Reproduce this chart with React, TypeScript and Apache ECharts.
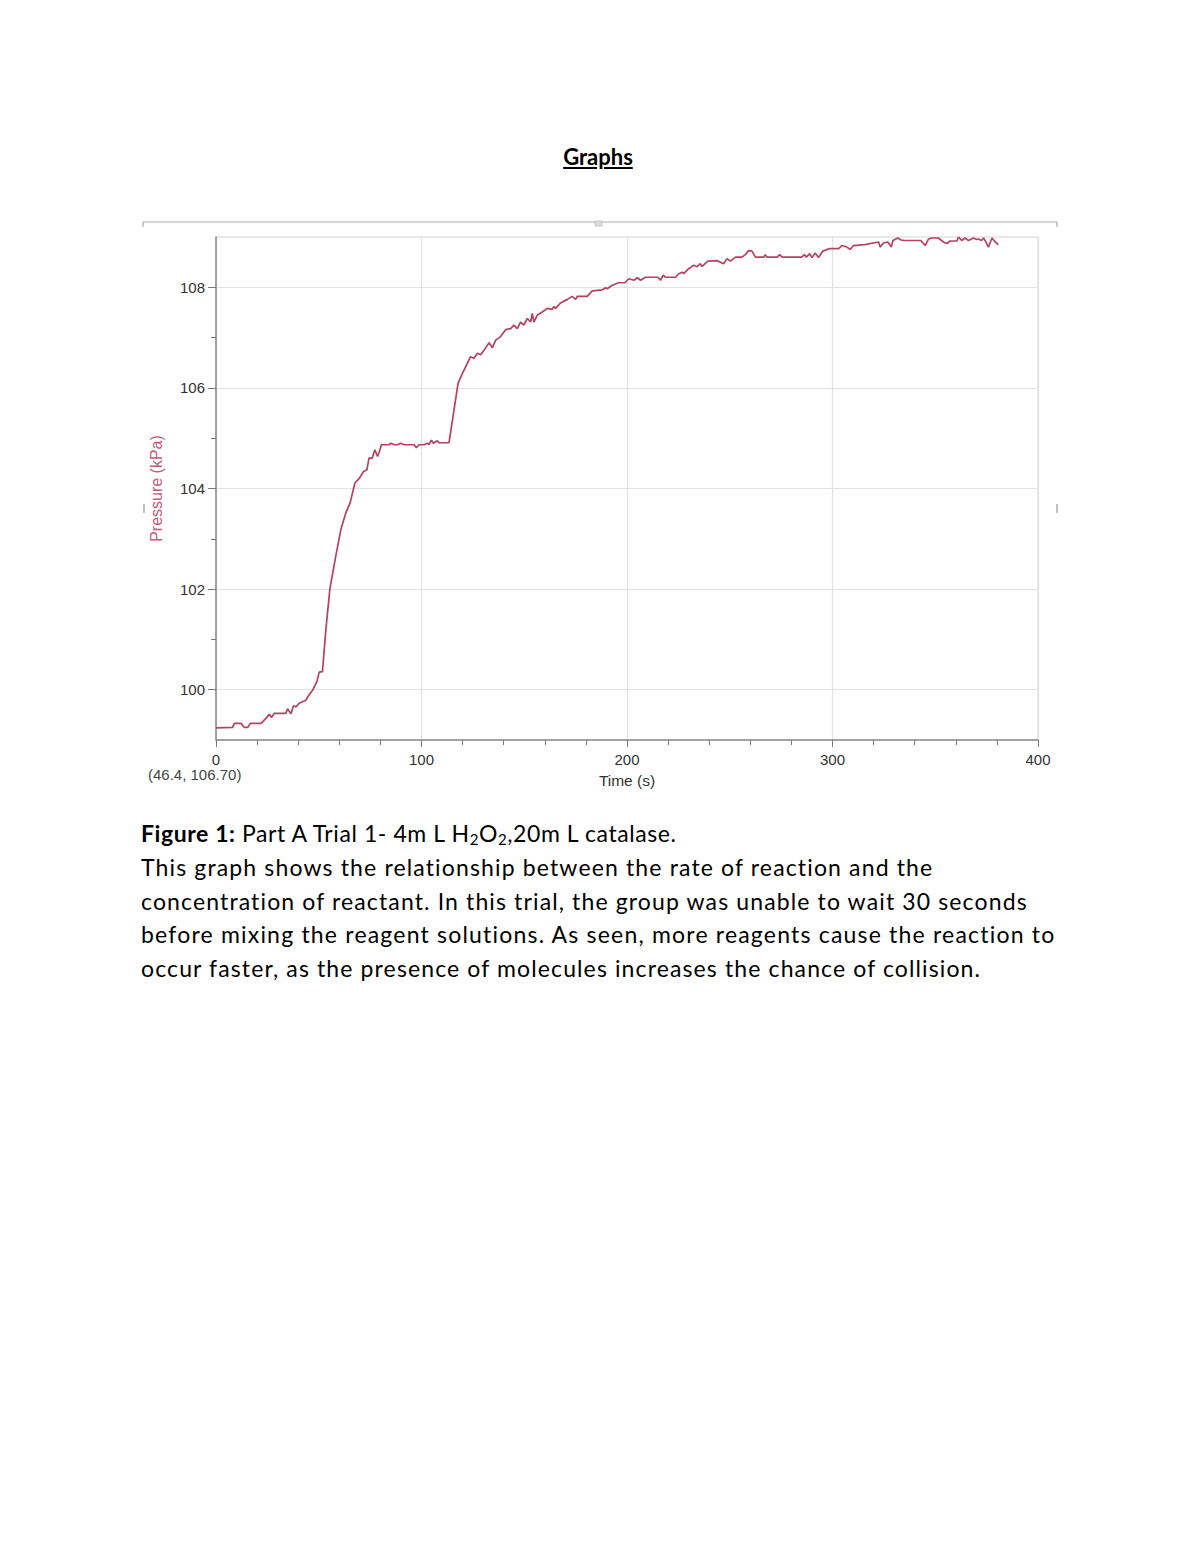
import { useEffect, useRef, type ReactNode } from 'react'
import * as echarts from 'echarts'

// readings taken off the logger trace: time (s) and pressure (kPa)
const timeS = [
  0, 8.1, 8.9, 12.2, 13.8, 15.4, 16.7, 21.9, 24.3, 25.9, 27.1, 28.4, 34.0, 34.8, 36.5, 37.7, 38.9,
  40.5, 43.7, 45.0, 47.0, 49.1, 50.2, 51.8, 53.5, 55.4, 58.3, 60.8, 63.2, 65.3, 67.6, 69.7, 71.8,
  73.4, 74.5, 76.0, 77.3, 78.6, 79.4, 80.5, 84.2, 85.1, 86.7, 88.3, 89.9, 91.5, 96.4, 97.5, 98.8,
  101.3, 102.9, 103.7, 104.8, 105.8, 107.7, 108.5, 113.4, 115.8, 117.8, 119.9, 122.3, 123.9, 125.5,
  127.2, 128.8, 130.4, 132.9, 134.5, 136.1, 138.5, 141.0, 143.4, 145.0, 146.6, 148.2, 149.8, 151.5,
  153.1, 153.9, 154.7, 156.4, 158.8, 161.2, 163.6, 164.4, 165.2, 167.7, 171.0, 173.3, 175.0, 175.8,
  180.6, 183.1, 188.0, 189.6, 190.4, 192.8, 196.0, 199.0, 200.9, 203.4, 205.0, 206.6, 209.0, 215.0,
  216.3, 217.6, 218.7, 223.6, 225.2, 226.8, 227.6, 230.0, 232.5, 234.1, 235.7, 236.5, 239.3, 243.8,
  247.0, 248.7, 250.3, 252.8, 256.0, 257.6, 259.2, 260.8, 262.5, 266.6, 267.3, 268.1, 273.1, 274.3,
  275.5, 285.0, 286.3, 287.3, 288.9, 290.0, 291.6, 293.2, 295.3, 298.6, 303.0, 304.6, 307.0, 308.6,
  310.2, 315.8, 322.4, 323.2, 324.8, 326.9, 328.6, 329.4, 331.8, 333.4, 335.0, 343.0, 345.1, 346.7,
  348.3, 351.5, 354.0, 355.6, 357.2, 360.5, 361.3, 362.9, 364.5, 366.2, 368.6, 370.2, 371.0, 372.5,
  373.5, 374.7, 375.9, 377.6, 379.2, 380.7
]

const pressureKPa = [
  99.24, 99.25, 99.33, 99.33, 99.25, 99.25, 99.33, 99.33, 99.43, 99.51, 99.45, 99.53, 99.53, 99.62,
  99.52, 99.68, 99.66, 99.73, 99.79, 99.88, 99.99, 100.16, 100.35, 100.36, 101.21, 102.0, 102.66,
  103.19, 103.52, 103.72, 104.11, 104.2, 104.34, 104.37, 104.61, 104.6, 104.77, 104.64, 104.72,
  104.87, 104.87, 104.9, 104.87, 104.87, 104.9, 104.87, 104.87, 104.81, 104.87, 104.87, 104.9,
  104.87, 104.96, 104.9, 104.95, 104.91, 104.91, 105.56, 106.09, 106.29, 106.49, 106.62, 106.59,
  106.69, 106.66, 106.75, 106.9, 106.8, 106.95, 107.02, 107.16, 107.18, 107.25, 107.18, 107.31,
  107.25, 107.38, 107.31, 107.48, 107.31, 107.45, 107.51, 107.58, 107.56, 107.62, 107.58, 107.69,
  107.76, 107.82, 107.76, 107.82, 107.82, 107.93, 107.95, 107.99, 107.97, 108.04, 108.09, 108.09,
  108.17, 108.14, 108.19, 108.14, 108.2, 108.2, 108.14, 108.24, 108.2, 108.2, 108.27, 108.3,
  108.27, 108.37, 108.44, 108.41, 108.47, 108.41, 108.52, 108.53, 108.47, 108.57, 108.52, 108.6,
  108.6, 108.65, 108.73, 108.72, 108.6, 108.6, 108.65, 108.6, 108.6, 108.65, 108.6, 108.6, 108.65,
  108.6, 108.67, 108.59, 108.68, 108.59, 108.72, 108.77, 108.77, 108.83, 108.8, 108.75, 108.83,
  108.85, 108.9, 108.8, 108.88, 108.9, 108.8, 108.93, 108.98, 108.94, 108.93, 108.93, 108.83,
  108.96, 108.98, 108.98, 108.9, 108.87, 108.92, 108.92, 109.0, 108.93, 108.98, 108.93, 108.98,
  108.95, 108.96, 108.93, 108.98, 108.9, 108.8, 108.98, 108.9, 108.85
]

const yMajorTicks = [100, 102, 104, 106, 108]
const yMinorTicks = [101, 103, 105, 107]
const cursorReadout = '(46.4, 106.70)'

const captionLines = [
  'This graph shows the relationship between the rate of reaction and the',
  'concentration of reactant. In this trial, the group was unable to wait 30 seconds',
  'before mixing the reagent solutions. As seen, more reagents cause the reaction to',
  'occur faster, as the presence of molecules increases the chance of collision.'
]
// right edge of each caption line on the page
const captionRight = [933, 1027, 1055, 980]

const docFont = "Lato, 'Open Sans', sans-serif"
const axisFont = "'Liberation Sans', Arial, sans-serif"

function PressureChart() {
  const ref = useRef<HTMLDivElement | null>(null)

  useEffect(() => {
    if (!ref.current) return
    const chart = echarts.init(ref.current, null, { renderer: 'svg' })

    const handleColor = '#c8c8c8'

    chart.setOption({
      animation: false,
      backgroundColor: '#fff',
      grid: {
        left: 86,
        top: 37,
        width: 822,
        height: 503,
        show: true,
        borderColor: '#d4d4d4',
        borderWidth: 1,
        backgroundColor: 'transparent'
      },
      xAxis: {
        type: 'value',
        min: 0,
        max: 400,
        interval: 100,
        name: 'Time (s)',
        nameLocation: 'middle',
        nameGap: 32,
        nameTextStyle: { color: '#333', fontSize: 15.5, fontFamily: axisFont },
        axisLine: { show: true, lineStyle: { color: '#8a8a8a', width: 1.5 } },
        axisTick: { show: true, length: 7, lineStyle: { color: '#777' } },
        minorTick: { show: true, splitNumber: 5, length: 5, lineStyle: { color: '#777' } },
        axisLabel: { color: '#333', fontSize: 15, fontFamily: axisFont, margin: 12 },
        splitLine: { show: true, lineStyle: { color: '#e2e2e2', width: 1.2 } }
      },
      yAxis: [
        {
          type: 'value',
          min: 99,
          max: 109,
          interval: 1,
          name: 'Pressure (kPa)',
          nameLocation: 'middle',
          nameGap: 52,
          nameTextStyle: { color: '#c85a7c', fontSize: 16, fontFamily: axisFont },
          axisLine: { show: true, lineStyle: { color: '#8a8a8a', width: 1.5 } },
          axisTick: { show: true, length: 8, customValues: yMajorTicks, lineStyle: { color: '#777' } },
          axisLabel: {
            color: '#333',
            fontSize: 15,
            fontFamily: axisFont,
            margin: 11,
            customValues: yMajorTicks
          },
          splitLine: { show: true, lineStyle: { color: '#e2e2e2', width: 1.2 } }
        },
        {
          type: 'value',
          min: 99,
          max: 109,
          interval: 1,
          position: 'left',
          axisLine: { show: false },
          axisTick: { show: true, length: 5, customValues: yMinorTicks, lineStyle: { color: '#777' } },
          axisLabel: { show: false },
          splitLine: { show: false }
        }
      ],
      graphic: [
        // selection frame of the pasted screenshot
        { type: 'line', shape: { x1: 13, y1: 22, x2: 927, y2: 22 }, style: { stroke: handleColor, lineWidth: 1.5 } },
        { type: 'line', shape: { x1: 13, y1: 22, x2: 13, y2: 27 }, style: { stroke: '#999', lineWidth: 1 } },
        { type: 'line', shape: { x1: 927, y1: 22, x2: 927, y2: 27 }, style: { stroke: '#999', lineWidth: 1 } },
        { type: 'rect', shape: { x: 465, y: 21, width: 7, height: 5 }, style: { fill: '#ddd', stroke: '#bbb', lineWidth: 0.8 } },
        { type: 'line', shape: { x1: 14, y1: 304, x2: 14, y2: 313 }, style: { stroke: '#999', lineWidth: 1.2 } },
        { type: 'line', shape: { x1: 927, y1: 304, x2: 927, y2: 313 }, style: { stroke: '#999', lineWidth: 1.2 } },
        {
          type: 'text',
          left: 18,
          top: 567,
          style: { text: cursorReadout, fill: '#444', fontSize: 15, fontFamily: axisFont }
        }
      ],
      series: [
        {
          type: 'line',
          xAxisIndex: 0,
          yAxisIndex: 0,
          showSymbol: false,
          silent: true,
          lineStyle: { color: '#b5435f', width: 1.7 },
          data: timeS.map((t, i) => [t, pressureKPa[i]])
        }
      ]
    })

    return () => chart.dispose()
  }, [])

  return (
    <div
      ref={ref}
      style={{ position: 'absolute', left: 130, top: 200, width: 940, height: 610 }}
    />
  )
}

// one line of document text, letter-spaced so that it ends where the original line ends
function DocLine({ top, right, children }: { top: number; right: number; children: ReactNode }) {
  const ref = useRef<HTMLDivElement | null>(null)

  useEffect(() => {
    const el = ref.current
    if (!el) return
    const fit = () => {
      el.style.letterSpacing = '0px'
      const natural = el.getBoundingClientRect().width
      const chars = (el.textContent || '').length
      const target = right - 141
      if (chars > 1) el.style.letterSpacing = `${(target - natural) / (chars - 1)}px`
    }
    fit()
    document.fonts?.ready.then(fit)
  }, [right])

  return (
    <div
      ref={ref}
      style={{
        position: 'absolute',
        top: top - 17,
        left: 141,
        fontSize: 23,
        lineHeight: '34px',
        whiteSpace: 'nowrap'
      }}
    >
      {children}
    </div>
  )
}

export default function App() {
  const subStyle = { fontSize: 15, verticalAlign: -3 }

  return (
    <div
      style={{
        position: 'absolute',
        left: 0,
        top: 0,
        width: 1200,
        height: 1553,
        background: '#fff',
        fontFamily: docFont,
        color: '#000'
      }}
    >
      <div
        style={{
          position: 'absolute',
          top: 157 - 17,
          left: 0,
          width: 1196,
          textAlign: 'center',
          fontSize: 22,
          lineHeight: '34px',
          fontWeight: 700,
          textDecoration: 'underline'
        }}
      >
        Graphs
      </div>

      <PressureChart />

      <DocLine top={833} right={676}>
        <b>Figure 1:</b> Part A Trial 1- 4m L H<sub style={subStyle}>2</sub>O
        <sub style={subStyle}>2</sub>,20m L catalase.
      </DocLine>

      {captionLines.map((line, i) => (
        <DocLine key={i} top={867 + i * 33.7} right={captionRight[i]}>
          {line}
        </DocLine>
      ))}
    </div>
  )
}
